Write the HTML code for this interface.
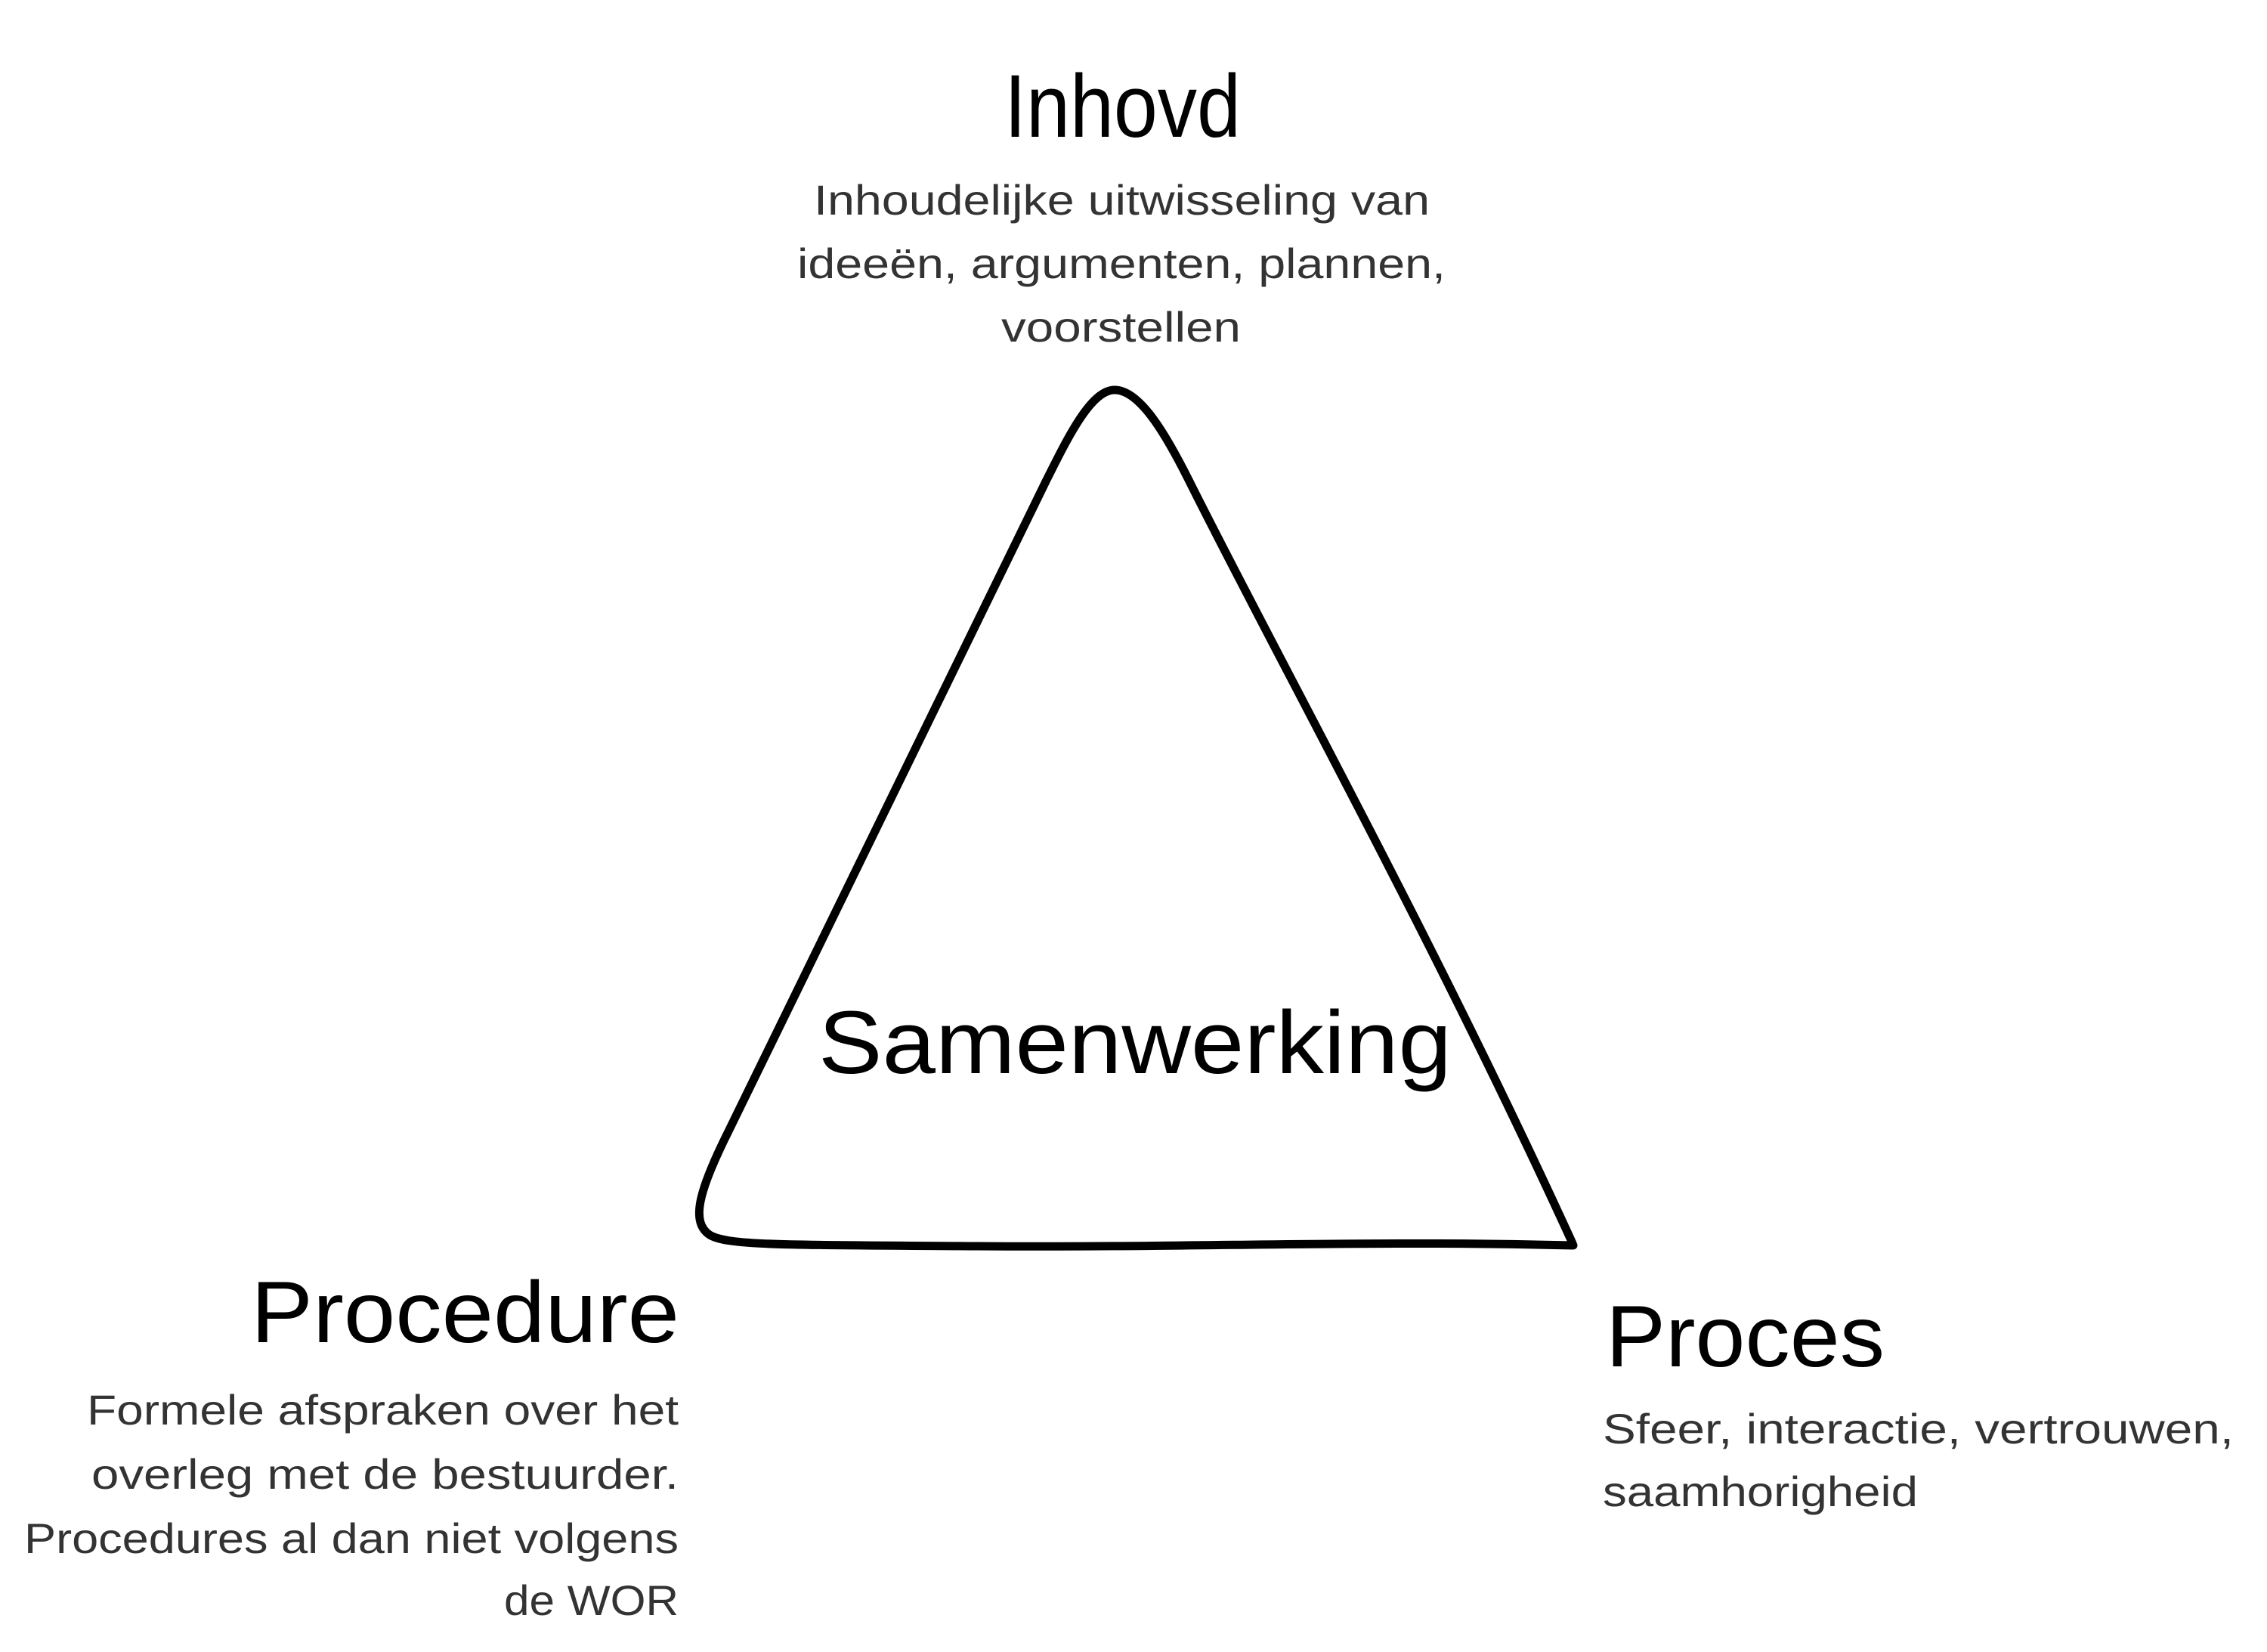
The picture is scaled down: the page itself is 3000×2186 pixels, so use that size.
<!DOCTYPE html>
<html><head><meta charset="utf-8"><style>html,body{margin:0;padding:0;background:#fff}svg{display:block}</style></head>
<body>
<svg width="3000" height="2186" viewBox="0 0 3000 2186" xmlns="http://www.w3.org/2000/svg">
<g transform="translate(-6,-3)">
<path d="M1481 519 C1450 519 1420 580 1390 640 L970 1500 C930 1580 920 1620 945 1637 C970 1652 1050 1650 1300 1652 C1600 1654 1800 1644 2088 1651 L2086 1646 C1900 1240 1700 880 1580 640 C1550 580 1515 519 1481 519 Z" fill="none" stroke="#000" stroke-width="11" stroke-linejoin="round"/>
</g>
<g font-family="'Liberation Sans', sans-serif" fill="#000">
<text x="1329" y="181" font-size="118" textLength="313" lengthAdjust="spacingAndGlyphs">Inhovd</text>
<text x="1083" y="1420" font-size="118" textLength="838" lengthAdjust="spacingAndGlyphs">Samenwerking</text>
<text x="332" y="1776" font-size="115" textLength="567" lengthAdjust="spacingAndGlyphs">Procedure</text>
<text x="2125" y="1808" font-size="115" textLength="369" lengthAdjust="spacingAndGlyphs">Proces</text>
</g>
<g font-family="'Liberation Sans', sans-serif" fill="#333" font-size="56">
<text x="1077" y="284" textLength="815" lengthAdjust="spacingAndGlyphs">Inhoudelijke uitwisseling van</text>
<text x="1055" y="368" textLength="858" lengthAdjust="spacingAndGlyphs">ideeën, argumenten, plannen,</text>
<text x="1325" y="452" textLength="317" lengthAdjust="spacingAndGlyphs">voorstellen</text>
<text x="115" y="1885" textLength="783" lengthAdjust="spacingAndGlyphs">Formele afspraken over het</text>
<text x="121" y="1970" textLength="777" lengthAdjust="spacingAndGlyphs">overleg met de bestuurder.</text>
<text x="32" y="2055" textLength="866" lengthAdjust="spacingAndGlyphs">Procedures al dan niet volgens</text>
<text x="667" y="2137" textLength="231" lengthAdjust="spacingAndGlyphs">de WOR</text>
<text x="2121" y="1910" textLength="835" lengthAdjust="spacingAndGlyphs">Sfeer, interactie, vertrouwen,</text>
<text x="2121" y="1993" textLength="417" lengthAdjust="spacingAndGlyphs">saamhorigheid</text>
</g>
</svg>
</body></html>
